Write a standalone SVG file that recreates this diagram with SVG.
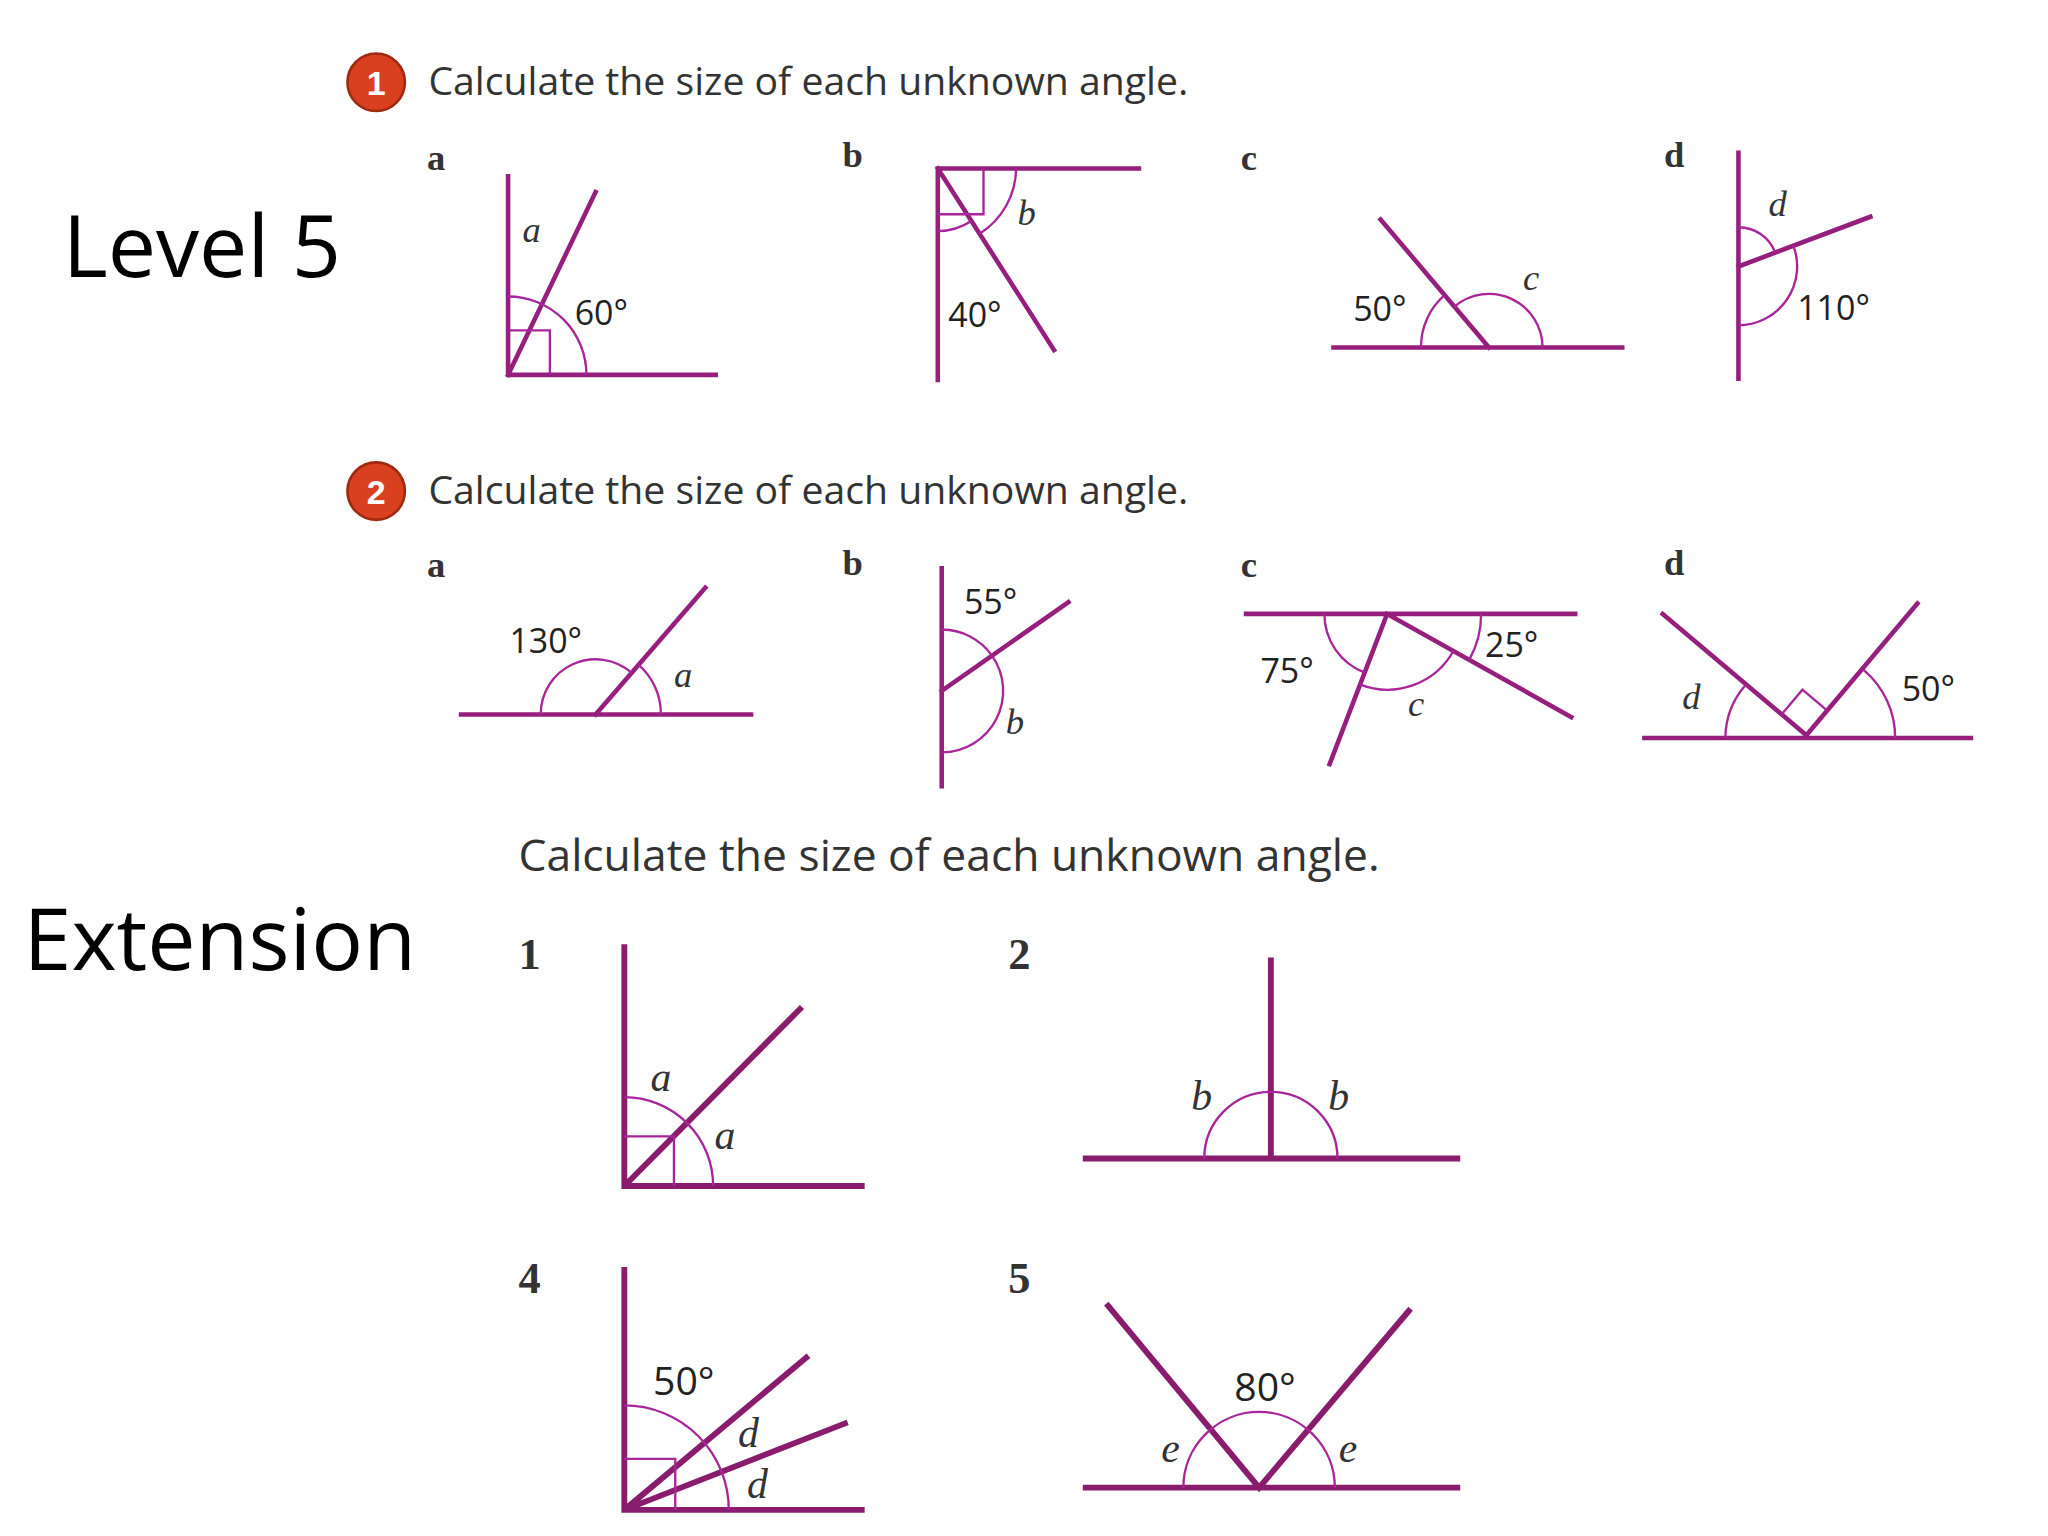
<svg xmlns="http://www.w3.org/2000/svg" width="2048" height="1536" viewBox="0 0 2048 1536">
<style>
.l{stroke:#961f7e;stroke-width:3.5;fill:none;stroke-linecap:square}
.e{stroke:#8a1c6e;stroke-width:4.5;fill:none}
.a{stroke:#a8259a;stroke-width:1.8;fill:none}
.t{font-family:"Open Sans","DejaVu Sans",sans-serif;fill:#333;font-size:30px}
.n{font-family:"Open Sans","DejaVu Sans",sans-serif;fill:#222;font-size:26px}
.i{font-family:"Liberation Serif",serif;font-style:italic;fill:#333;font-size:28px}
.q{font-family:"Liberation Serif",serif;font-weight:bold;fill:#333;font-size:28px}
.big{font-family:"Open Sans","DejaVu Sans",sans-serif;fill:#000;font-size:66px}
</style>
<rect width="2048" height="1536" fill="#fff"/>
<g transform="scale(1.30612)">
<g id="titles">
<text class="big" x="48" y="212">Level 5</text>
<text class="big" x="18" y="743">Extension</text>
<circle cx="288" cy="63" r="22" fill="#d9401f" stroke="#a02a10" stroke-width="2"/>
<text x="288" y="73" text-anchor="middle" font-family="Liberation Sans,sans-serif" font-weight="bold" font-size="26" fill="#fff">1</text>
<text class="t" x="328" y="73">Calculate the size of each unknown angle.</text>
<circle cx="288" cy="376" r="22" fill="#d9401f" stroke="#a02a10" stroke-width="2"/>
<text x="288" y="386" text-anchor="middle" font-family="Liberation Sans,sans-serif" font-weight="bold" font-size="26" fill="#fff">2</text>
<text class="t" x="328" y="386">Calculate the size of each unknown angle.</text>
<text class="t" x="397" y="667" style="font-size:34px">Calculate the size of each unknown angle.</text>
<text class="q" x="327" y="130">a</text><text class="q" x="645" y="128">b</text><text class="q" x="950" y="130">c</text><text class="q" x="1274" y="128">d</text>
<text class="q" x="327" y="442">a</text><text class="q" x="645" y="440">b</text><text class="q" x="950" y="442">c</text><text class="q" x="1274" y="440">d</text>
<text class="q" x="397" y="742" style="font-size:34px">1</text><text class="q" x="772" y="742" style="font-size:34px">2</text>
<text class="q" x="397" y="990" style="font-size:34px">4</text><text class="q" x="772" y="990" style="font-size:34px">5</text>
</g>
<g id="q1a">
<path class="l" d="M389 135V287H548M389 287L456 147"/>
<path class="a" d="M389 253H421V287M389 227A60 60 0 0 1 449 287"/>
<text class="i" x="400" y="185">a</text><text class="n" x="440" y="249">60°</text>
</g>
<g id="q1b">
<path class="l" d="M872 129H718V291M718 129L807 268"/>
<path class="a" d="M718 164H753V129M778 129A60 60 0 0 1 750 179M718 177A48 48 0 0 0 744 169"/>
<text class="i" x="779" y="172">b</text><text class="n" x="726" y="250">40°</text>
</g>
<g id="q1c">
<path class="l" d="M1021 266H1242M1057 168L1140 266"/>
<path class="a" d="M1088 266A52 52 0 0 1 1106 226M1181 266A41 41 0 0 0 1113.5 234.7"/>
<text class="n" x="1036" y="246">50°</text><text class="i" x="1166" y="222">c</text>
</g>
<g id="q1d">
<path class="l" d="M1331 117V290M1331 204L1432 166"/>
<path class="a" d="M1331 174A30 30 0 0 1 1359 193M1373 188A45 45 0 0 1 1331 249"/>
<text class="i" x="1354" y="165">d</text><text class="n" x="1376" y="245">110°</text>
</g>
<g id="q2a">
<path class="l" d="M353 547H575M456 547L540 450"/>
<path class="a" d="M414 547A42 42 0 0 1 483.5 515M489 509A50 50 0 0 1 506 547"/>
<text class="n" x="390" y="500">130°</text><text class="i" x="516" y="526">a</text>
</g>
<g id="q2b">
<path class="l" d="M721 435V602M721 529L818 461"/>
<path class="a" d="M721 482A47 47 0 0 1 759.5 502M759.5 502A47 47 0 0 1 721 576"/>
<text class="n" x="738" y="470">55°</text><text class="i" x="770" y="562">b</text>
</g>
<g id="q2c">
<path class="l" d="M954 470H1206M1062 470L1018 585M1062 470L1203 549"/>
<path class="a" d="M1014 470A48 48 0 0 0 1045 515M1041 524A58 58 0 0 0 1113 498M1125 505A72 72 0 0 0 1134 470"/>
<text class="n" x="965" y="523">75°</text><text class="n" x="1137" y="503">25°</text><text class="i" x="1078" y="548">c</text>
</g>
<g id="q2d">
<path class="l" d="M1259 565H1509M1273 470L1383 563L1468 462"/>
<path class="a" d="M1321 565A62 62 0 0 1 1336 525M1427 513A68 68 0 0 1 1451 565M1364 547L1380 528L1399 544"/>
<text class="i" x="1288" y="543">d</text><text class="n" x="1456" y="537">50°</text>
</g>
<g id="e1">
<path class="e" d="M478 723V908H662M478 908L614 771"/>
<path class="a" d="M478 870H516V908M478 840A68 68 0 0 1 546 908"/>
<text class="i" x="498" y="835" style="font-size:32px">a</text><text class="i" x="547" y="880" style="font-size:32px">a</text>
</g>
<g id="e2">
<path class="e" d="M829 887H1118M973 733V887"/>
<path class="a" d="M922 887A51 51 0 0 1 1024 887"/>
<text class="i" x="912" y="850" style="font-size:32px">b</text><text class="i" x="1017" y="850" style="font-size:32px">b</text>
</g>
<g id="e4">
<path class="e" d="M478 970V1156H662M478 1156L619 1038M478 1156L649 1089"/>
<path class="a" d="M478 1117H517V1156M478 1076A80 80 0 0 1 558 1156"/>
<text class="n" x="500" y="1068" style="font-size:30px">50°</text><text class="i" x="565" y="1108" style="font-size:32px">d</text><text class="i" x="572" y="1147" style="font-size:32px">d</text>
</g>
<g id="e5">
<path class="e" d="M829 1139H1118M847 998L964 1139L1080 1002"/>
<path class="a" d="M906 1139A58 58 0 0 1 1022 1139"/>
<text class="n" x="945" y="1073" style="font-size:30px">80°</text><text class="i" x="889" y="1119" style="font-size:32px">e</text><text class="i" x="1025" y="1119" style="font-size:32px">e</text>
</g>
</g>
</svg>
